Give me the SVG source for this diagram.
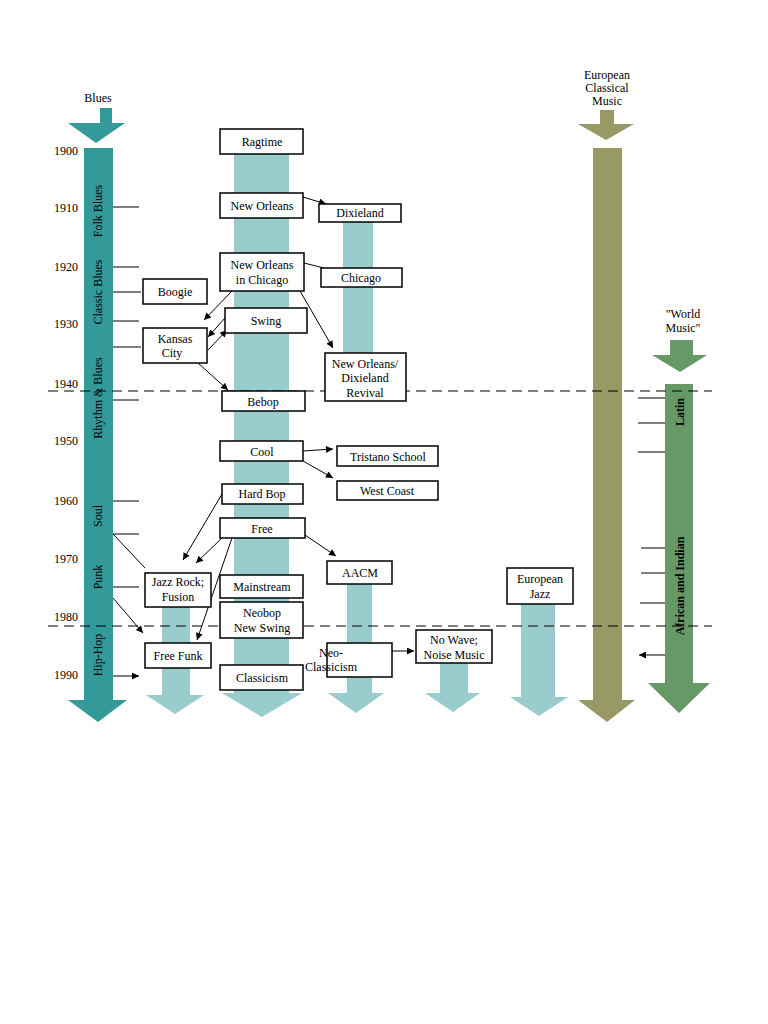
<svg xmlns="http://www.w3.org/2000/svg" width="768" height="1024" viewBox="0 0 768 1024">
<style>
text{font-family:"Liberation Serif","DejaVu Serif",serif;font-size:12px;fill:#000;text-anchor:middle}
.box{fill:#fff;stroke:#000;stroke-width:1.5}
.lb{fill:#99cccc}.tl{fill:#339999}.ol{fill:#999966}.gr{fill:#669966}
.c{stroke:#000;stroke-width:1;fill:none;marker-end:url(#a)}
.d{stroke:#000;stroke-dasharray:10,6}
.v{font-weight:bold}
</style>
<defs><marker id="a" viewBox="0 0 10 10" refX="10" refY="5" markerWidth="9" markerHeight="7" orient="auto" markerUnits="userSpaceOnUse"><path d="M0,0L10,5L0,10z"/></marker></defs>
<rect width="768" height="1024" fill="#fff"/>
<g id="streams">
<path class="tl" d="M100,108h12v15h13l-29,20l-28,-20h32z"/>
<path class="tl" d="M84,148h29v552h14l-29,22l-30,-22h16z"/>
<path class="lb" d="M234,150h55v543h13l-40,24l-40,-24h12z"/>
<path class="lb" d="M343,222h30v133h-30z"/>
<path class="lb" d="M162,607h28v88h14l-29,19l-29,-19h16z"/>
<path class="lb" d="M347,584h25v109h12l-28,20l-28,-20h19z"/>
<path class="lb" d="M440,663h28v30h12l-27,19l-28,-19h15z"/>
<path class="lb" d="M521,604h34v93h13l-29,19l-29,-19h11z"/>
<path class="ol" d="M600,110h14v14h20l-28,16l-28,-16h22z"/>
<path class="ol" d="M593,148h29v552h13l-28,22l-29,-22h15z"/>
<path class="gr" d="M670,340h23v15h14l-27,17l-28,-17h18z"/>
<path class="gr" d="M665,384h28v299h17l-31,30l-31,-30h17z"/>
</g>
<g id="labels">
<text x="98" y="102" font-size="11">Blues</text>
<text x="607" y="79" font-size="11">European</text><text x="607" y="92" font-size="11">Classical</text><text x="607" y="105" font-size="11">Music</text>
<text x="683" y="318" font-size="11">"World</text><text x="683" y="332" font-size="11">Music"</text>
<g font-size="12"><text x="66" y="155">1900</text><text x="66" y="212">1910</text><text x="66" y="271">1920</text><text x="66" y="328">1930</text><text x="66" y="388">1940</text><text x="66" y="445">1950</text><text x="66" y="505">1960</text><text x="66" y="563">1970</text><text x="66" y="621">1980</text><text x="66" y="679">1990</text></g>
<text transform="translate(102,211) rotate(-90)">Folk Blues</text>
<text transform="translate(102,292) rotate(-90)">Classic Blues</text>
<text transform="translate(102,398) rotate(-90)">Rhythm &amp; Blues</text>
<text transform="translate(102,516) rotate(-90)">Soul</text>
<text transform="translate(102,577) rotate(-90)">Punk</text>
<text transform="translate(102,655) rotate(-90)">Hip-Hop</text>
<text class="v" transform="translate(684,412) rotate(-90)">Latin</text>
<text class="v" transform="translate(684,586) rotate(-90)">African and Indian</text>
</g>
<line class="d" x1="48" y1="391" x2="712" y2="391"/>
<line class="d" x1="48" y1="626" x2="712" y2="626"/>
<g id="connectors">
<path class="c" d="M113,207h26M113,267h26M113,292h28M113,321h26M113,347h28M113,400h26M113,501h26M113,534h26M113,587h26M113,676h26"/>
<path class="c" d="M113,534L145,568M113,598L143,633"/>
<path class="c" d="M665,398h-27M665,423h-27M665,452h-27M665,548h-24M665,573h-24M665,603h-25M665,655h-26"/>
<path class="c" d="M303,197L326,204"/>
<path stroke="#000" d="M304,263L324,268"/>
<path class="c" d="M232,291L204,320"/>
<path class="c" d="M300,291L333,348"/>
<path class="c" d="M225,318L208,337"/>
<path class="c" d="M208,350L227,330"/>
<path class="c" d="M198,363L228,390"/>
<path class="c" d="M303,451L333,449"/>
<path class="c" d="M303,461L333,478"/>
<path class="c" d="M222,494L183,560"/>
<path class="c" d="M222,538L196,563"/>
<path class="c" d="M232,538L197,640"/>
<path class="c" d="M305,535L336,556"/>
<path class="c" d="M392,651L414,651"/>
</g>
<g id="n-ragtime"><rect class="box" x="220" y="129" width="83" height="25"/><text x="262" y="146">Ragtime</text></g>
<g id="n-neworleans"><rect class="box" x="220" y="193" width="83" height="25"/><text x="262" y="210">New Orleans</text></g>
<g id="n-dixieland"><rect class="box" x="319" y="204" width="82" height="18"/><text x="360" y="217">Dixieland</text></g>
<g id="n-nochicago"><rect class="box" x="220" y="253" width="84" height="38"/><text x="262" y="269">New Orleans</text><text x="262" y="284">in Chicago</text></g>
<g id="n-chicago"><rect class="box" x="321" y="268" width="81" height="19"/><text x="361" y="282">Chicago</text></g>
<g id="n-boogie"><rect class="box" x="143" y="279" width="64" height="25"/><text x="175" y="296">Boogie</text></g>
<g id="n-swing"><rect class="box" x="225" y="308" width="82" height="25"/><text x="266" y="325">Swing</text></g>
<g id="n-kc"><rect class="box" x="143" y="328" width="64" height="35"/><text x="175" y="343">Kansas</text><text x="172" y="357">City</text></g>
<g id="n-revival"><rect class="box" x="325" y="353" width="81" height="48"/><text x="365" y="368">New Orleans/</text><text x="365" y="382">Dixieland</text><text x="365" y="397">Revival</text></g>
<g id="n-bebop"><rect class="box" x="222" y="391" width="83" height="20"/><text x="263" y="406">Bebop</text></g>
<g id="n-cool"><rect class="box" x="220" y="441" width="83" height="20"/><text x="262" y="456">Cool</text></g>
<g id="n-tristano"><rect class="box" x="337" y="446" width="101" height="20"/><text x="388" y="461">Tristano School</text></g>
<g id="n-westcoast"><rect class="box" x="337" y="481" width="101" height="19"/><text x="387" y="495">West Coast</text></g>
<g id="n-hardbop"><rect class="box" x="222" y="484" width="81" height="20"/><text x="262" y="498">Hard Bop</text></g>
<g id="n-free"><rect class="box" x="220" y="518" width="85" height="20"/><text x="262" y="533">Free</text></g>
<g id="n-aacm"><rect class="box" x="327" y="561" width="65" height="23"/><text x="360" y="577">AACM</text></g>
<g id="n-jazzrock"><rect class="box" x="145" y="573" width="66" height="34"/><text x="178" y="586">Jazz Rock;</text><text x="178" y="601">Fusion</text></g>
<g id="n-mainstream"><rect class="box" x="220" y="575" width="83" height="23"/><text x="262" y="591">Mainstream</text></g>
<g id="n-eurojazz"><rect class="box" x="507" y="568" width="66" height="36"/><text x="540" y="583">European</text><text x="540" y="598">Jazz</text></g>
<g id="n-neobop"><rect class="box" x="220" y="602" width="83" height="36"/><text x="262" y="617">Neobop</text><text x="262" y="632">New Swing</text></g>
<g id="n-nowave"><rect class="box" x="416" y="630" width="76" height="33"/><text x="454" y="644">No Wave;</text><text x="454" y="659">Noise Music</text></g>
<g id="n-neoclassicism"><rect class="box" x="327" y="643" width="65" height="34"/><text x="331" y="657" text-anchor="start">Neo-</text><text x="331" y="671" text-anchor="start">Classicism</text></g>
<g id="n-freefunk"><rect class="box" x="145" y="643" width="66" height="25"/><text x="178" y="660">Free Funk</text></g>
<g id="n-classicism"><rect class="box" x="220" y="665" width="83" height="25"/><text x="262" y="682">Classicism</text></g>
</svg>
